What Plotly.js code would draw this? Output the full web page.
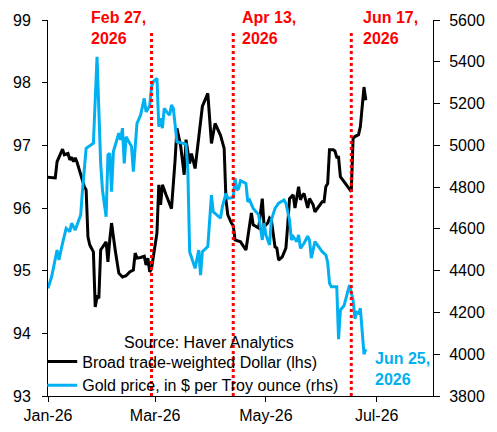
<!DOCTYPE html>
<html>
<head>
<meta charset="utf-8">
<script src="https://cdn.plot.ly/plotly-3.0.1.min.js"></script>
<style>
html,body{margin:0;padding:0;background:#fff;}
#chart{width:497px;height:432px;}
</style>
</head>
<body>
<div id="chart"></div>
<script>
var dollarDates = ["2026-01-01","2026-01-05","2026-01-06","2026-01-09","2026-01-10","2026-01-12","2026-01-13","2026-01-14","2026-01-15","2026-01-16","2026-01-17","2026-01-19","2026-01-21","2026-01-22","2026-01-23","2026-01-24","2026-01-26","2026-01-27","2026-01-28","2026-01-29","2026-01-30",
"2026-02-02","2026-02-03","2026-02-04","2026-02-05","2026-02-07","2026-02-09","2026-02-11","2026-02-13","2026-02-15","2026-02-17","2026-02-18","2026-02-19","2026-02-21","2026-02-23","2026-02-24","2026-02-25","2026-02-26","2026-02-27",
"2026-03-02","2026-03-03","2026-03-04","2026-03-05","2026-03-07","2026-03-10","2026-03-12","2026-03-13","2026-03-15","2026-03-17","2026-03-18","2026-03-20","2026-03-21","2026-03-23","2026-03-27","2026-03-30",
"2026-04-01","2026-04-03","2026-04-06","2026-04-08","2026-04-09","2026-04-10","2026-04-12","2026-04-13","2026-04-14","2026-04-17","2026-04-20","2026-04-22","2026-04-23","2026-04-24","2026-04-27","2026-04-29","2026-04-30",
"2026-05-02","2026-05-03","2026-05-04","2026-05-06","2026-05-07","2026-05-08","2026-05-10","2026-05-12","2026-05-13","2026-05-14","2026-05-16","2026-05-17","2026-05-19","2026-05-20","2026-05-21","2026-05-22","2026-05-24","2026-05-25","2026-05-27","2026-05-28","2026-05-30",
"2026-06-01","2026-06-02","2026-06-03","2026-06-04","2026-06-05","2026-06-07","2026-06-08","2026-06-09","2026-06-10","2026-06-11","2026-06-13","2026-06-15","2026-06-16","2026-06-17","2026-06-18","2026-06-19","2026-06-21","2026-06-22","2026-06-24","2026-06-25"];
var dollarValues = [96.49,96.48,96.74,96.94,96.85,96.87,96.77,96.81,96.74,96.80,96.73,96.53,96.34,96.29,95.54,95.41,95.30,94.42,94.58,94.56,95.33,
95.46,95.14,95.49,95.76,95.33,94.96,94.90,94.92,94.98,95.01,95.28,95.20,95.21,95.23,95.09,95.20,94.98,95.03,
95.60,96.37,96.05,96.37,96.21,95.99,96.77,97.27,97.00,96.53,97.09,96.71,96.87,96.63,97.62,97.83,
97.03,97.35,97.16,96.95,96.13,95.89,95.76,95.72,95.49,95.46,95.33,95.76,95.92,95.73,95.68,96.15,95.70,
95.76,95.84,95.81,95.38,95.36,95.17,95.22,95.36,95.73,96.15,96.21,96.00,96.34,96.13,96.20,96.23,96.00,96.15,96.05,95.94,96.02,
96.10,96.10,96.34,96.39,96.93,96.93,96.91,96.81,96.81,96.50,96.42,96.34,96.30,96.26,97.11,97.14,97.17,97.30,97.93,97.72];

var goldDates = ["2026-01-01","2026-01-03","2026-01-06","2026-01-07","2026-01-09","2026-01-11","2026-01-13","2026-01-14","2026-01-16","2026-01-19","2026-01-20","2026-01-22","2026-01-26","2026-01-28","2026-01-30","2026-01-31",
"2026-02-02","2026-02-03","2026-02-04","2026-02-05","2026-02-06","2026-02-09","2026-02-10","2026-02-11","2026-02-12","2026-02-13","2026-02-16","2026-02-17","2026-02-19","2026-02-21","2026-02-23","2026-02-24","2026-02-26","2026-02-27","2026-02-28",
"2026-03-02","2026-03-03","2026-03-04","2026-03-05","2026-03-06","2026-03-08","2026-03-09","2026-03-10","2026-03-11","2026-03-13","2026-03-16","2026-03-18","2026-03-19","2026-03-20","2026-03-23","2026-03-25","2026-03-26","2026-03-27","2026-03-30",
"2026-04-01","2026-04-02","2026-04-06","2026-04-07","2026-04-09","2026-04-10","2026-04-13","2026-04-14","2026-04-15","2026-04-16","2026-04-17","2026-04-20","2026-04-21","2026-04-22","2026-04-23","2026-04-24","2026-04-27","2026-04-29","2026-04-30",
"2026-05-01","2026-05-03","2026-05-04","2026-05-06","2026-05-08","2026-05-11","2026-05-12","2026-05-14","2026-05-15","2026-05-16","2026-05-18","2026-05-19","2026-05-20","2026-05-22","2026-05-24","2026-05-25","2026-05-26","2026-05-28","2026-05-31",
"2026-06-01","2026-06-03","2026-06-04","2026-06-05","2026-06-06","2026-06-09","2026-06-10","2026-06-11","2026-06-13","2026-06-16","2026-06-18","2026-06-19","2026-06-20","2026-06-21","2026-06-22","2026-06-24","2026-06-25"];
var goldValues = [4316,4371,4499,4451,4531,4603,4587,4627,4595,4667,4786,4986,5010,5424,4914,4786,
4658,4954,4962,4778,4970,5058,5026,5082,4914,5041,4994,4874,5105,5145,5225,5160,5190,5281,5305,
5321,5089,5129,5082,5177,5153,5145,5193,5177,5017,5010,5006,4882,4491,4411,4499,4379,4491,4515,
4762,4682,4651,4706,4770,4746,4750,4842,4786,4794,4831,4818,4730,4738,4714,4698,4667,4547,4627,
4571,4523,4643,4698,4723,4738,4723,4643,4547,4563,4539,4571,4507,4531,4565,4545,4460,4539,4500,
4491,4475,4440,4340,4323,4323,4072,4212,4232,4331,4260,4170,4200,4196,4220,4000,4024];

var seriesNames = ["Broad trade-weighted Dollar (lhs)", "Gold price, in $ per Troy ounce (rhs)"];
var eventDates = ["2026-02-27", "2026-04-13", "2026-06-17"];
var eventLabels = ["Feb 27,<br>2026", "Apr 13,<br>2026", "Jun 17,<br>2026"];
var endLabel = "Jun 25,<br>2026";
var sourceText = "Source: Haver Analytics";
var xTickVals = ["2026-01-01","2026-03-01","2026-05-01","2026-07-01"];
var xTickText = ["Jan-26","Mar-26","May-26","Jul-26"];

var FONT = "Liberation Sans, Arial, sans-serif";
var BLUE = "#00B0F0";
var RED = "#FF0000";

var traces = [
  {x: goldDates, y: goldValues, yaxis: "y2", type: "scatter", mode: "lines",
   name: seriesNames[1], legendrank: 2, line: {color: BLUE, width: 3}},
  {x: dollarDates, y: dollarValues, yaxis: "y", type: "scatter", mode: "lines",
   name: seriesNames[0], legendrank: 1, line: {color: "#000000", width: 3}}
];

var shapes = eventDates.map(function(d){
  return {type: "line", xref: "x", yref: "paper", x0: d, x1: d, y0: 0, y1: 0.973,
          line: {color: RED, width: 3, dash: "dot"}};
});

var annX = [0.26, 0.4995, 0.813];
var annAnchor = ["right", "left", "left"];
var annotations = eventLabels.map(function(t, i){
  return {text: t, xref: "paper", yref: "paper", x: annX[i], y: 1.034, xanchor: annAnchor[i], yanchor: "top",
          align: "left", showarrow: false, font: {family: FONT, size: 16, color: RED, weight: "bold"}};
});
annotations.push({text: endLabel, xref: "paper", yref: "paper", x: 0.844, y: 0.128, xanchor: "left", yanchor: "top",
  align: "left", showarrow: false, font: {family: FONT, size: 16, color: BLUE, weight: "bold"}});
annotations.push({text: sourceText, xref: "paper", yref: "paper", x: 0.419, y: 0.141, xanchor: "center", yanchor: "middle",
  showarrow: false, font: {family: FONT, size: 16, color: "#000"}});

var layout = {
  width: 497, height: 432,
  margin: {l: 48, r: 64, t: 20, b: 36, pad: 0},
  paper_bgcolor: "#fff", plot_bgcolor: "#fff",
  font: {family: FONT, size: 16, color: "#000"},
  showlegend: true,
  legend: {x: -0.015, y: 0.137, xanchor: "left", yanchor: "top", bgcolor: "rgba(0,0,0,0)",
           font: {family: FONT, size: 16, color: "#000"}, tracegroupgap: 0, itemwidth: 30},
  xaxis: {type: "date", range: ["2026-01-01", "2026-08-01"], tickmode: "array", tickvals: xTickVals, ticktext: xTickText,
          showgrid: false, zeroline: false, showline: true, linecolor: "#000", linewidth: 1,
          ticks: "outside", ticklen: 5, tickcolor: "#000", tickfont: {family: FONT, size: 16, color: "#000"}},
  yaxis: {range: [93, 99], dtick: 1, showgrid: false, zeroline: false, showline: true, linecolor: "#000", linewidth: 1,
          ticks: "outside", ticklen: 5, tickcolor: "#000", ticklabelstandoff: 8, tickfont: {family: FONT, size: 16, color: "#000"}},
  yaxis2: {range: [3800, 5600], dtick: 200, overlaying: "y", side: "right", showgrid: false, zeroline: false,
           showline: true, linecolor: "#000", linewidth: 1, ticks: "outside", ticklen: 6, tickcolor: "#000", ticklabelstandoff: 6,
           tickfont: {family: FONT, size: 16, color: "#000"}},
  shapes: shapes,
  annotations: annotations
};

Plotly.newPlot("chart", traces, layout, {displayModeBar: false, staticPlot: true});
</script>
</body>
</html>
